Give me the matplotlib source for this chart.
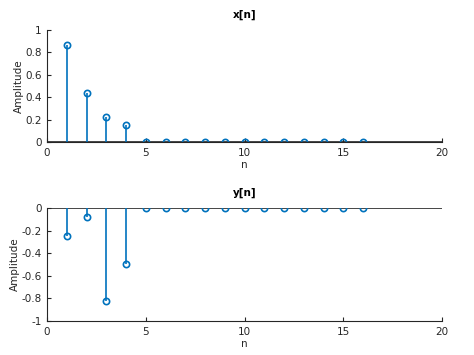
import numpy as np
import matplotlib
matplotlib.use("Agg")
from matplotlib import pyplot as plt

n = np.arange(1, 17)
x_vals = [0.87, 0.44, 0.22, 0.15, 0, 0, 0, 0, 0, 0, 0, 0, 0, 0, 0, 0]
y_vals = [-0.25, -0.083, -0.825, -0.495, 0, 0, 0, 0, 0, 0, 0, 0, 0, 0, 0, 0]

plt.rcParams['axes.unicode_minus'] = False
plt.rcParams['font.family'] = 'DejaVu Sans'

blue = '#0072BD'
dark = '#262626'

fig = plt.figure(figsize=(4.74, 3.55), dpi=100)
ax1 = fig.add_axes([0.0992, 0.600, 0.8333, 0.3155])
ax2 = fig.add_axes([0.0992, 0.0958, 0.8333, 0.3183])


def draw(ax, vals, title, ylim, yticks):
    markers, stems, base = ax.stem(n, vals, linefmt='-', basefmt=' ')
    plt.setp(stems, color=blue, linewidth=1.2)
    plt.setp(markers, color=blue, markerfacecolor='none', markersize=4.5, markeredgewidth=1.2)
    ax.axhline(0, color=dark, linewidth=1.2, zorder=1)
    ax.set_xlim(0, 20)
    ax.set_ylim(*ylim)
    ax.set_xticks([0, 5, 10, 15, 20])
    ax.set_yticks(yticks)
    ax.set_yticklabels([('%g' % t) for t in yticks])
    ax.set_title(title, fontsize=7.5, fontweight='bold', pad=9)
    ax.set_xlabel('n', fontsize=7.5, color=dark, labelpad=2)
    ax.set_ylabel('Amplitude', fontsize=7.5, color=dark, labelpad=1)
    for s in ['top', 'right']:
        ax.spines[s].set_visible(False)
    for s in ['left', 'bottom']:
        ax.spines[s].set_color(dark)
        ax.spines[s].set_linewidth(0.8)
    ax.tick_params(direction='in', length=3, width=0.8, colors=dark, labelsize=7.5, pad=4)


draw(ax1, x_vals, 'x[n]', (0, 1), [0, 0.2, 0.4, 0.6, 0.8, 1])
draw(ax2, y_vals, 'y[n]', (-1, 0), [-1, -0.8, -0.6, -0.4, -0.2, 0])

fig.savefig('out.png', dpi=100)
